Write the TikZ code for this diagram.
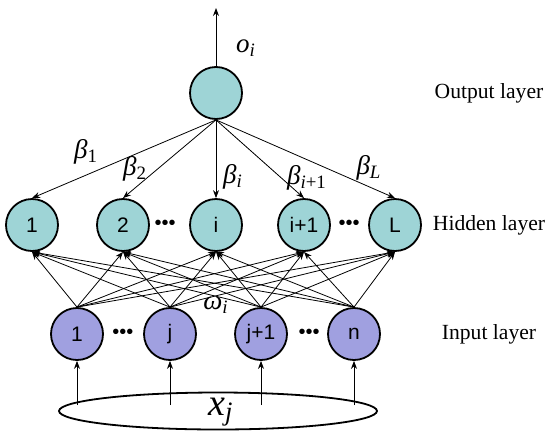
\documentclass[tikz,border=0pt]{standalone}
\usepackage{fontspec}
\setmainfont{Liberation Serif}
\setsansfont{Liberation Sans}
\usetikzlibrary{arrows.meta,shapes.geometric}

\definecolor{hidcol}{RGB}{158,212,214}
\definecolor{inpcol}{RGB}{160,160,224}

% italic symbol with subscript
\newcommand{\symsub}[2]{\textit{#1}\textsubscript{#2}}

\begin{document}
\begin{tikzpicture}
            [
                x=0.5pt, y=-0.5pt,
                neuron/.style={circle, draw, line width=0.9pt, minimum size=26pt, inner sep=0pt,
                    font=\sffamily\fontsize{10.5}{12}\selectfont},
                hid/.style={neuron, fill=hidcol},
                inp/.style={neuron, fill=inpcol},
                layer/.style={font=\fontsize{10.8}{13}\selectfont},
                wt/.style={font=\fontsize{13.5}{15}\selectfont, inner sep=0pt},
                dots/.style={font=\sffamily\fontsize{10}{11}\selectfont},
                ->, >={Stealth[length=4pt,width=3pt]}
            ]
            \useasboundingbox (0,0) rectangle (550,439);

            % output layer
            \node[hid] (out) at (216,93) {};
            \coordinate (top) at (216,8);
            \node[wt] (oi) at (246,48) {\symsub{o}{\textit{i}}};

            % hidden layer
            \node[hid] (h1) at (32,225) {1};
            \node[hid] (h2) at (123,225) {2};
            \node[hid] (h3) at (216,225) {i};
            \node[hid] (h4) at (304,225) {i+1};
            \node[hid] (h5) at (395,225) {L};
            \node[dots] (hd1) at (165,225) {•••};
            \node[dots] (hd2) at (349,225) {•••};

            % input layer
            \node[inp] (in1) at (77,334) {1};
            \node[inp] (in2) at (170,334) {j};
            \node[inp] (in3) at (261,334) {j+1};
            \node[inp] (in4) at (354,334) {n};
            \node[dots] (id1) at (123,334) {•••};
            \node[dots] (id2) at (309,334) {•••};

            % input vector
            \node[ellipse, draw, line width=0.9pt, minimum width=159pt, minimum height=18.5pt,
                inner sep=0pt] (xin) at (218,411) {};
            \node[font=\fontsize{19}{22}\selectfont, inner sep=0pt] (xj) at (221,412) {\symsub{x}{\textit{j}}};
            \coordinate (base) at (218,405);

            % layer names
            \node[layer] (lout) at (489,93) {Output layer};
            \node[layer] (lhid) at (489,225) {Hidden layer};
            \node[layer] (linp) at (489,334) {Input layer};

            % weights
            \node[wt] (b1) at (86,152) {\symsub{β}{1}};
            \node[wt] (b2) at (135,169) {\symsub{β}{2}};
            \node[wt] (b3) at (233,177) {\symsub{β}{\textit{i}}};
            \node[wt] (b4) at (307,178) {\symsub{β}{\textit{i}+1}};
            \node[wt] (b5) at (369,168) {\symsub{β}{\textit{L}}};
            \node[wt] (wi) at (216,305) {\symsub{ω}{\textit{i}}};

            % connections
            \draw (out) -- (top);
            \foreach \k in {1,...,5}
                \draw (out.south) -- (h\k.north);
            \foreach \j in {1,...,4}
                \foreach \k in {1,...,5}
                    \draw (in\j.north) -- (h\k.south);
            \foreach \j in {1,...,4}
                \draw (in\j |- base) -- (in\j.south);
        \end{tikzpicture}
\end{document}
